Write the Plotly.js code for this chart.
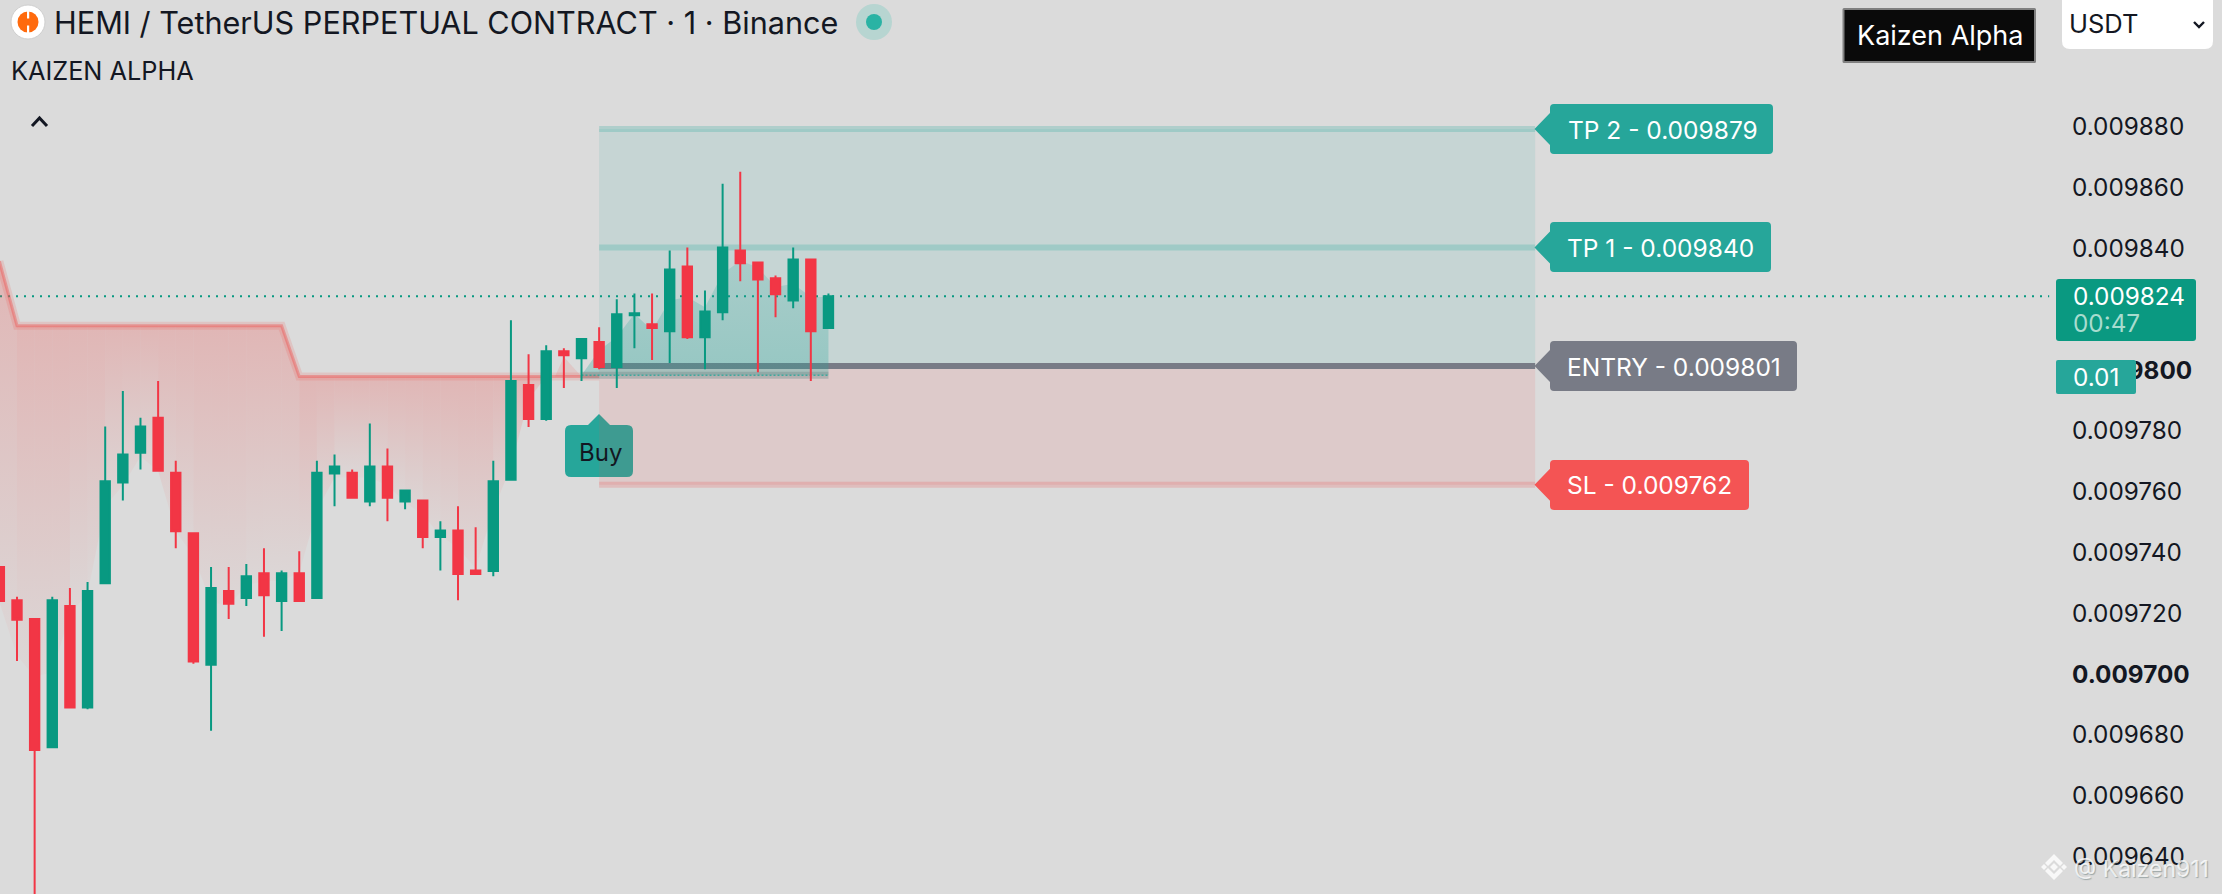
<!DOCTYPE html>
<html>
<head>
<meta charset="utf-8">
<script src="https://cdn.plot.ly/plotly-3.0.1.min.js"></script>
<style>html,body{margin:0;padding:0;background:#dbdbdb;overflow:hidden}</style>
</head>
<body>
<div id="chart" style="width:2222px;height:894px"></div>
<script>
// ---- Data ----
const candleIndex = [-1,0,1,2,3,4,5,6,7,8,9,10,11,12,13,14,15,16,17,18,19,20,21,22,23,24,25,26,27,28,29,30,31,32,33,34,35,36,37,38,39,40,41,42,43,44,45,46];
const openPrices = [0.0097349,0.0097240,0.0097178,0.0096756,0.0097221,0.0096887,0.0097296,0.0097627,0.0097725,0.0097840,0.0097659,0.0097460,0.0097028,0.0097270,0.0097247,0.0097329,0.0097237,0.0097329,0.0097247,0.0097657,0.0097659,0.0097565,0.0097680,0.0097565,0.0097568,0.0097448,0.0097469,0.0097338,0.0097336,0.0097636,0.0097948,0.0097836,0.0098059,0.0098036,0.0098089,0.0098007,0.0098177,0.0098148,0.0098125,0.0098338,0.0098105,0.0098187,0.0098390,0.0098351,0.0098299,0.0098226,0.0098361,0.0098135];
const highPrices = [0.0097349,0.0097251,0.0097178,0.0097251,0.0097280,0.0097300,0.0097811,0.0097928,0.0097840,0.0097961,0.0097699,0.0097460,0.0097349,0.0097349,0.0097359,0.0097411,0.0097338,0.0097401,0.0097699,0.0097719,0.0097670,0.0097821,0.0097739,0.0097601,0.0097568,0.0097500,0.0097549,0.0097480,0.0097699,0.0098161,0.0098049,0.0098079,0.0098069,0.0098099,0.0098138,0.0098230,0.0098249,0.0098249,0.0098390,0.0098400,0.0098259,0.0098610,0.0098649,0.0098351,0.0098308,0.0098400,0.0098361,0.0098249];
const lowPrices = [0.0097237,0.0097040,0.0096237,0.0096756,0.0096887,0.0096881,0.0097296,0.0097568,0.0097670,0.0097666,0.0097411,0.0097031,0.0096811,0.0097178,0.0097221,0.0097120,0.0097139,0.0097237,0.0097247,0.0097549,0.0097577,0.0097549,0.0097500,0.0097539,0.0097411,0.0097338,0.0097240,0.0097326,0.0097319,0.0097636,0.0097810,0.0097830,0.0097938,0.0097961,0.0098000,0.0097938,0.0098069,0.0098030,0.0098020,0.0098099,0.0098000,0.0098161,0.0098289,0.0097990,0.0098171,0.0098200,0.0097961,0.0098135];
const closePrices = [0.0097237,0.0097176,0.0096747,0.0097240,0.0096887,0.0097270,0.0097631,0.0097719,0.0097811,0.0097666,0.0097467,0.0097038,0.0097280,0.0097228,0.0097319,0.0097256,0.0097329,0.0097237,0.0097659,0.0097680,0.0097577,0.0097680,0.0097577,0.0097601,0.0097448,0.0097469,0.0097326,0.0097326,0.0097631,0.0097961,0.0097836,0.0098059,0.0098046,0.0098099,0.0098007,0.0098181,0.0098184,0.0098135,0.0098328,0.0098105,0.0098190,0.0098400,0.0098348,0.0098295,0.0098246,0.0098361,0.0098125,0.0098240];

const stopIndex = [-1,0,1,2,3,4,5,6,7,8,9,10,11,12,13,14,15,16,17,18,19,20,21,22,23,24,25,26,27,28,29,30,31,32,33];
const stopLine = [0.0098355,0.0098143,0.0098143,0.0098143,0.0098143,0.0098143,0.0098143,0.0098143,0.0098143,0.0098143,0.0098143,0.0098143,0.0098143,0.0098143,0.0098143,0.0098143,0.0098143,0.0097976,0.0097976,0.0097976,0.0097976,0.0097976,0.0097976,0.0097976,0.0097976,0.0097976,0.0097976,0.0097976,0.0097976,0.0097976,0.0097976,0.0097976,0.0097976,0.0097976,0.0097976];
const stopFillLow = [0.0097234,0.0097057,0.0096989,0.0097002,0.0097193,0.0097262,0.0097549,0.0097617,0.0097713,0.0097665,0.0097467,0.0097385,0.0097234,0.0097221,0.0097289,0.0097303,0.0097303,0.0097330,0.0097535,0.0097644,0.0097644,0.0097644,0.0097617,0.0097562,0.0097521,0.0097453,0.0097412,0.0097344,0.0097535,0.0097680,0.0097900,0.0097976,0.0097976,0.0097976,0.0097976];
const flipIndex = [30.5,31,32];
const flipPeak = [0.0097976,0.0098040,0.0097976];

const trailIndex = [32,33,34,35,36,37,38,39,40,41,42,43,44,45,46];
const trailLine = [0.0097980,0.0097980,0.0097980,0.0097980,0.0097980,0.0097980,0.0097980,0.0097980,0.0097980,0.0097980,0.0097980,0.0097980,0.0097980,0.0097980,0.0097980];
const trailFillHigh = [0.0097980,0.0098062,0.0098106,0.0098182,0.0098128,0.0098226,0.0098237,0.0098204,0.0098314,0.0098357,0.0098335,0.0098270,0.0098281,0.0098237,0.0098237];

const levelPrices = {tp2:0.009879, tp1:0.009840, entry:0.009801, sl:0.009762};
const lastPrice = 0.009824;
const tickValues = [0.00964,0.00966,0.00968,0.0097,0.00972,0.00974,0.00976,0.00978,0.0098,0.00982,0.00984,0.00986,0.00988];
const tickLabels = ['0.009640','0.009660','0.009680','<b>0.009700</b>','0.009720','0.009740','0.009760','0.009780','<b>0.009800</b>','0.009820','0.009840','0.009860','0.009880'];

// ---- Layout constants ----
const W = 2222, H = 894, plotW = 2070;
const xRange = [-0.9637, 116.38];
const yRange = [0.00962736, 0.00992143];
const GREEN = '#089981', RED = '#f23645', TEAL = '#26a69a', SLRED = '#f45454', GREY = '#787b86', INK = '#131722', BG = '#dbdbdb';
const FONT = 'Inter, Roboto, sans-serif';

const px = x => x / plotW;
const py = y => 1 - y / H;
const yOf = p => (yRange[1] - p) / (yRange[1] - yRange[0]) * H;
const P = (x, y) => px(x) + ',' + py(y);

function roundRect(x0, y0, x1, y1, r) {
  return 'M' + P(x0 + r, y0) + ' L' + P(x1 - r, y0) + ' Q' + P(x1, y0) + ' ' + P(x1, y0 + r) +
    ' L' + P(x1, y1 - r) + ' Q' + P(x1, y1) + ' ' + P(x1 - r, y1) +
    ' L' + P(x0 + r, y1) + ' Q' + P(x0, y1) + ' ' + P(x0, y1 - r) +
    ' L' + P(x0, y0 + r) + ' Q' + P(x0, y0) + ' ' + P(x0 + r, y0) + ' Z';
}
function tagPath(x0, y0, x1, y1, r, tip, yc, h) {
  return 'M' + P(x0 + r, y0) + ' L' + P(x1 - r, y0) + ' Q' + P(x1, y0) + ' ' + P(x1, y0 + r) +
    ' L' + P(x1, y1 - r) + ' Q' + P(x1, y1) + ' ' + P(x1 - r, y1) +
    ' L' + P(x0 + r, y1) + ' Q' + P(x0, y1) + ' ' + P(x0, y1 - r) +
    ' L' + P(x0, yc + h) + ' L' + P(tip, yc) + ' L' + P(x0, yc - h) +
    ' L' + P(x0, y0 + r) + ' Q' + P(x0, y0) + ' ' + P(x0 + r, y0) + ' Z';
}
const chrome = (path, fill, layer, extra) => Object.assign({
  type: 'path', xref: 'paper', yref: 'paper', path, fillcolor: fill, line: {width: 0}, layer: layer || 'above'
}, extra || {});
function circle(cx, cy, rx, ry, fill, lineSpec) {
  return {type: 'circle', xref: 'paper', yref: 'paper', x0: px(cx - rx), x1: px(cx + rx), y0: py(cy + ry), y1: py(cy - ry), fillcolor: fill, line: lineSpec || {width: 0}, layer: 'above'};
}
const ann = (text, x, y, size, color, anchor, extra) => Object.assign({
  text, xref: 'paper', yref: 'paper', x: px(x), y: py(y), xanchor: anchor || 'left', yanchor: 'middle',
  showarrow: false, font: {family: FONT, size, color}, align: 'left', borderpad: 0, borderwidth: 0
}, extra || {});

// ---- Traces ----
const traces = [];
for (let k = 0; k < stopIndex.length - 1; k++) {
  const low = Math.min(stopFillLow[k], stopFillLow[k + 1]);
  const top = Math.max(stopLine[k], stopLine[k + 1]);
  if (top - low < 2e-7) continue;
  traces.push({
    type: 'scatter', mode: 'lines', hoverinfo: 'skip', showlegend: false,
    x: [stopIndex[k], stopIndex[k + 1], stopIndex[k + 1], stopIndex[k]],
    y: [stopLine[k], stopLine[k + 1], stopFillLow[k + 1], stopFillLow[k]],
    fill: 'toself', line: {width: 0},
    fillgradient: {type: 'vertical', start: top, stop: low,
      colorscale: [[0, 'rgba(239,83,80,0.27)'], [1, 'rgba(239,83,80,0.03)']]}
  });
}
traces.push({type: 'scatter', mode: 'lines', hoverinfo: 'skip', showlegend: false, x: flipIndex, y: flipPeak, fill: 'toself', line: {width: 0}, fillcolor: 'rgba(239,83,80,0.14)'});
// teal fill: base then upper edge
traces.push({type: 'scatter', mode: 'lines', hoverinfo: 'skip', showlegend: false, x: trailIndex, y: trailLine, line: {width: 0}});
traces.push({type: 'scatter', mode: 'lines', hoverinfo: 'skip', showlegend: false, x: trailIndex, y: trailFillHigh, line: {width: 0},
  fill: 'tonexty', fillgradient: {type: 'vertical', start: 0.009840, stop: 0.009798,
    colorscale: [[0, 'rgba(38,166,154,0.17)'], [1, 'rgba(38,166,154,0.30)']]}});
// stop line and its halo
traces.push({type: 'scatter', mode: 'lines', hoverinfo: 'skip', showlegend: false, x: stopIndex, y: stopLine, line: {color: 'rgba(239,83,80,0.17)', width: 8}});
traces.push({type: 'scatter', mode: 'lines', hoverinfo: 'skip', showlegend: false, x: stopIndex, y: stopLine, line: {color: 'rgba(239,83,80,0.42)', width: 3}});
traces.push({type: 'scatter', mode: 'lines', hoverinfo: 'skip', showlegend: false, x: trailIndex, y: trailLine, line: {color: 'rgba(110,135,135,0.38)', width: 7}});
traces.push({type: 'scatter', mode: 'lines', hoverinfo: 'skip', showlegend: false, x: trailIndex, y: trailLine, line: {color: 'rgba(38,166,154,0.8)', width: 1.5, dash: '2px,2px'}});
traces.push({
  type: 'candlestick', x: candleIndex, open: openPrices, high: highPrices, low: lowPrices, close: closePrices,
  increasing: {line: {color: GREEN, width: 2}, fillcolor: GREEN},
  decreasing: {line: {color: RED, width: 2}, fillcolor: RED},
  whiskerwidth: 0, hoverinfo: 'skip', showlegend: false, zorder: 5
});

// ---- Shapes ----
const zone = (x0, x1, y0, y1, fill) => ({type: 'rect', xref: 'x', yref: 'y', x0, x1, y0, y1, fillcolor: fill, line: {width: 0}, layer: 'below'});
const level = (y, color, wpx) => ({type: 'line', xref: 'x', yref: 'y', x0: 33, x1: 86.06, y0: y, y1: y, line: {color, width: wpx}, layer: 'below'});

const shapes = [
  // Buy marker sits below the zones
  chrome(roundRect(565, 425, 633, 477, 6), TEAL, 'below'),
  chrome('M' + P(587, 426) + ' L' + P(599, 414) + ' L' + P(611, 426) + ' Z', TEAL, 'below'),
  zone(33, 86.06, levelPrices.entry, levelPrices.tp2, 'rgba(38,166,154,0.115)'),
  zone(33, 86.06, levelPrices.sl, levelPrices.entry, 'rgba(239,83,80,0.12)'),
  level(levelPrices.tp2, 'rgba(38,166,154,0.24)', 6),
  level(levelPrices.tp1, 'rgba(38,166,154,0.24)', 6),
  level(levelPrices.sl, 'rgba(239,83,80,0.22)', 6),
  level(levelPrices.entry, GREY, 6),
  {type: 'line', xref: 'x', yref: 'y', x0: xRange[0], x1: 115.2, y0: lastPrice, y1: lastPrice, line: {color: GREEN, width: 2, dash: '2px,6px'}, layer: 'below'},

  // Level tags
  chrome(tagPath(1550, 104, 1773, 154, 4, 1534.5, yOf(levelPrices.tp2), 16), TEAL),
  chrome(tagPath(1550, 222, 1771, 272, 4, 1534.5, yOf(levelPrices.tp1), 16), TEAL),
  chrome(tagPath(1550, 341, 1797, 391, 4, 1534.5, yOf(levelPrices.entry), 16), GREY),
  chrome(tagPath(1550, 460, 1749, 510, 4, 1534.5, yOf(levelPrices.sl), 16), SLRED),

  // Axis tags
  chrome(roundRect(2056, 279, 2196, 341, 3), '#0a9981'),
  chrome(roundRect(2056, 360, 2136, 394, 2), TEAL),

  // Header: coin icon, status dot
  circle(28, 22, 17, 17, '#ffffff', {color: '#cfcfcf', width: 1}),
  circle(28, 22, 10.5, 10.5, '#ff6a0d'),
  chrome('M' + P(27, 10) + ' L' + P(29.2, 10) + ' L' + P(29.2, 18.5) + ' L' + P(27, 18.5) + ' Z', '#ffffff'),
  chrome('M' + P(27, 25.5) + ' L' + P(29.2, 25.5) + ' L' + P(29.2, 34) + ' L' + P(27, 34) + ' Z', '#ffffff'),
  circle(874, 22, 18, 18, '#b7d5d1'),
  circle(874, 22, 8, 8, '#2ab3a4'),

  // Collapse caret
  {type: 'path', xref: 'paper', yref: 'paper', path: 'M' + P(32, 126) + ' L' + P(39.5, 118) + ' L' + P(47, 126), line: {color: INK, width: 3}, layer: 'above'},

  // Buttons
  chrome(roundRect(1843.5, 9, 2035, 62, 0.5), '#0a0a0a', 'above', {line: {color: '#808080', width: 2}}),
  chrome(roundRect(2062, -10, 2213, 49, 8), '#ffffff'),
  {type: 'path', xref: 'paper', yref: 'paper', path: 'M' + P(2194, 22) + ' L' + P(2199, 27) + ' L' + P(2204, 22), line: {color: INK, width: 2.4}, layer: 'above'},

  // Watermark logo
  chrome('M' + P(2045, 863) + ' L' + P(2054, 854) + ' L' + P(2063, 863) + ' L' + P(2060, 866) + ' L' + P(2054, 860) + ' L' + P(2048, 866) + ' Z', 'rgba(255,255,255,0.8)'),
  chrome('M' + P(2045, 871) + ' L' + P(2054, 880) + ' L' + P(2063, 871) + ' L' + P(2060, 868) + ' L' + P(2054, 874) + ' L' + P(2048, 868) + ' Z', 'rgba(255,255,255,0.8)'),
  chrome('M' + P(2054, 863) + ' L' + P(2058, 867) + ' L' + P(2054, 871) + ' L' + P(2050, 867) + ' Z', 'rgba(255,255,255,0.8)'),
  chrome('M' + P(2044, 864) + ' L' + P(2047, 867) + ' L' + P(2044, 870) + ' L' + P(2041, 867) + ' Z', 'rgba(255,255,255,0.8)'),
  chrome('M' + P(2064, 864) + ' L' + P(2067, 867) + ' L' + P(2064, 870) + ' L' + P(2061, 867) + ' Z', 'rgba(255,255,255,0.8)')
];

// ---- Text ----
const annotations = [
  ann('HEMI / TetherUS PERPETUAL CONTRACT · 1 · Binance', 54, 23, 30.6, INK),
  ann('KAIZEN ALPHA', 11, 71, 25.3, INK),
  ann('Kaizen Alpha', 1939.5, 36, 27, '#ffffff', 'center'),
  ann('USDT', 2069, 24, 25.5, INK),
  ann('Buy', 600, 452, 24, INK, 'center'),
  ann('TP 2 - 0.009879', 1568, 130, 24.5, '#ffffff'),
  ann('TP 1 - 0.009840', 1567, 248, 24.5, '#ffffff'),
  ann('ENTRY - 0.009801', 1567, 367, 24.5, '#ffffff'),
  ann('SL - 0.009762', 1567, 485, 24.5, '#ffffff'),
  ann('0.009824', 2073, 296, 24.3, '#ffffff'),
  ann('00:47', 2073, 323, 24.3, '#a8dccf'),
  ann('0.01', 2073, 377, 24.3, '#ffffff'),
  {text: '@ Kaizen911', xref: 'paper', yref: 'paper', x: px(2073), y: py(869), xanchor: 'left', yanchor: 'middle', showarrow: false,
   font: {family: FONT, size: 23, color: 'rgba(255,255,255,0.8)', shadow: '1px 1px 1px rgba(90,110,110,0.6)'}, borderpad: 0}
];

const layout = {
  width: W, height: H, autosize: false,
  margin: {l: 0, r: W - plotW, t: 0, b: 0, pad: 0},
  paper_bgcolor: BG, plot_bgcolor: BG,
  showlegend: false, boxgap: 0.24,
  xaxis: {range: xRange, visible: false, fixedrange: true, rangeslider: {visible: false}, type: 'linear'},
  yaxis: {range: yRange, side: 'right', tickmode: 'array', tickvals: tickValues, ticktext: tickLabels,
    showgrid: false, zeroline: false, showline: false, ticks: '', fixedrange: true, ticklabelshift: 1, ticklabelstandoff: 1,
    tickfont: {family: FONT, size: 24.3, color: INK}},
  shapes, annotations
};
Plotly.newPlot('chart', traces, layout, {displayModeBar: false, staticPlot: true});
</script>
</body>
</html>
